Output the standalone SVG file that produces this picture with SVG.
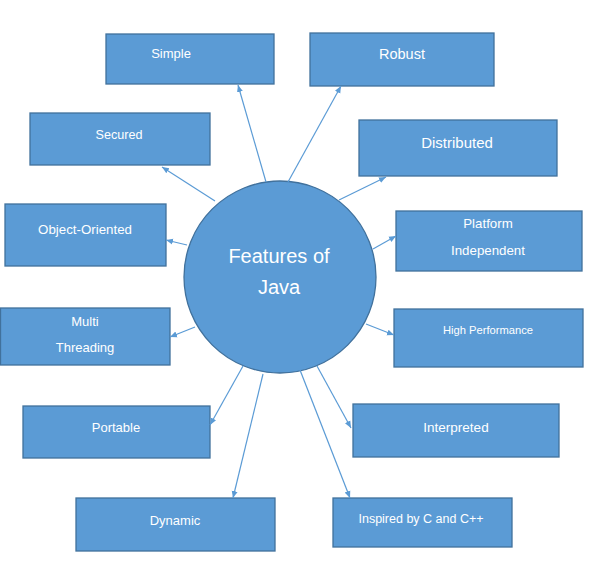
<svg xmlns="http://www.w3.org/2000/svg" width="597" height="582" viewBox="0 0 597 582">
<style>
.box{fill:#5B9BD5;stroke:#41719C;stroke-width:1.3}
.t{font-family:"Liberation Sans",Arial,sans-serif;fill:#FFFFFF;text-anchor:middle;font-size:13px}
.c{stroke:#5B9BD5;stroke-width:1.2;fill:none;marker-end:url(#ah)}
</style>
<defs>
<marker id="ah" markerUnits="userSpaceOnUse" markerWidth="8" markerHeight="8" refX="7" refY="4" orient="auto">
<path d="M0,1 L7,4 L0,7 Z" fill="#5B9BD5"/>
</marker>
</defs>
<rect width="597" height="582" fill="#FFFFFF"/>
<g id="center">
<circle cx="280" cy="277" r="96" class="box"/>
<text class="t" x="279" y="263" style="font-size:20px">Features of</text>
<text class="t" x="279" y="294" style="font-size:20px">Java</text>
</g>
<g id="simple"><rect class="box" x="106" y="34" width="168" height="50"/><text class="t" x="171" y="58">Simple</text></g>
<g id="robust"><rect class="box" x="310" y="33" width="184" height="53"/><text class="t" x="402" y="59" style="font-size:14.5px">Robust</text></g>
<g id="secured"><rect class="box" x="30" y="113" width="180" height="52"/><text class="t" x="119" y="139" style="font-size:12.6px">Secured</text></g>
<g id="distributed"><rect class="box" x="359" y="120" width="198" height="56"/><text class="t" x="457" y="148" style="font-size:15px">Distributed</text></g>
<g id="object-oriented"><rect class="box" x="5" y="204" width="161" height="62"/><text class="t" x="85" y="234" style="font-size:13.3px">Object-Oriented</text></g>
<g id="multithreading"><rect class="box" x="0.5" y="308" width="169.5" height="57"/><text class="t" x="85" y="326">Multi</text><text class="t" x="85" y="352">Threading</text></g>
<g id="platform"><rect class="box" x="396" y="211" width="186" height="60"/><text class="t" x="488" y="228" style="font-size:13.3px">Platform</text><text class="t" x="488" y="255" style="font-size:13.3px">Independent</text></g>
<g id="highperformance"><rect class="box" x="394" y="309" width="189" height="58"/><text class="t" x="488" y="334" style="font-size:11.2px">High Performance</text></g>
<g id="portable"><rect class="box" x="23" y="406" width="187" height="52"/><text class="t" x="116" y="432">Portable</text></g>
<g id="dynamic"><rect class="box" x="76" y="498" width="199" height="53"/><text class="t" x="175" y="525">Dynamic</text></g>
<g id="interpreted"><rect class="box" x="353" y="404" width="206" height="53"/><text class="t" x="456" y="432" style="font-size:13.5px">Interpreted</text></g>
<g id="inspired"><rect class="box" x="333" y="498" width="179" height="49"/><text class="t" x="421" y="523" style="font-size:12.5px">Inspired by C and C++</text></g>
<g id="connectors">
<line class="c" x1="266" y1="182" x2="238" y2="85"/>
<line class="c" x1="288" y1="182" x2="341" y2="86"/>
<line class="c" x1="215" y1="201" x2="162" y2="167"/>
<line class="c" x1="339" y1="200" x2="386" y2="177"/>
<line class="c" x1="187" y1="245" x2="166" y2="240"/>
<line class="c" x1="195" y1="327" x2="170" y2="337"/>
<line class="c" x1="373" y1="249" x2="396" y2="236"/>
<line class="c" x1="366" y1="324" x2="394" y2="335"/>
<line class="c" x1="243" y1="366" x2="210" y2="425"/>
<line class="c" x1="263" y1="374" x2="233" y2="498"/>
<line class="c" x1="317" y1="366" x2="351" y2="428"/>
<line class="c" x1="300" y1="370" x2="350" y2="498"/>
</g>
</svg>
